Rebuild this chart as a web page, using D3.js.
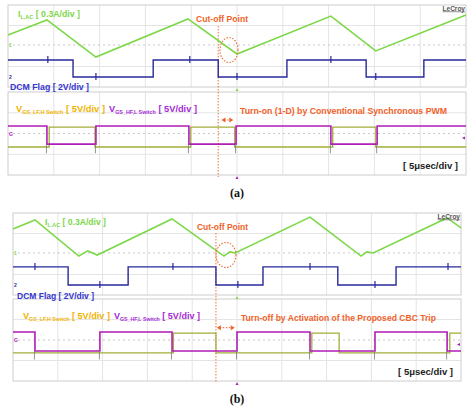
<!DOCTYPE html>
<html>
<head>
<meta charset="utf-8">
<script src="https://cdn.jsdelivr.net/npm/d3@7"></script>
<style>
  html, body { margin: 0; padding: 0; background: #fff; }
  svg { display: block; }
  text { font-family: "Liberation Sans", Arial, sans-serif; font-weight: bold; }
</style>
</head>
<body>
<div id="chart"></div>
<script>
// ---- dados (tempo em divisões de 5 µs, amplitude em divisões) ----

// (a) corrente do indutor I_L,AC
const iLacA_t = [0, 0.85, 1.92, 3.93, 5.0, 7.05, 8.03, 10];
const iLacA_v = [0.54, 1.27, -0.54, 1.32, -0.39, 1.46, -0.24, 1.51];
// (a) DCM flag
const dcmA_t = [0, 1.42, 3.17, 4.59, 6.09, 7.82, 9.08, 10];
const dcmA_v = [-0.68, -1.51, -0.68, -1.51, -0.68, -1.51, -0.68, -0.68];
const dcmA_spikes = [0.87, 1.92, 3.97, 5.0, 7.05, 8.03];
// (a) gate signals
const vgsHfA_t = [0, 0.85, 1.92, 3.95, 4.98, 7.05, 8.06, 10];
const vgsHfA_v = [0.36, -0.51, 0.36, -0.51, 0.36, -0.51, 0.36, 0.36];
const vgsLfA_t = [0, 0.9, 1.9, 3.99, 4.95, 7.09, 8.03, 10];
const vgsLfA_v = [-0.65, 0.31, -0.65, 0.31, -0.65, 0.31, -0.65, -0.65];

// (b) corrente do indutor I_L,AC
const iLacB_t = [0, 0.49, 1.47, 1.67, 1.88, 3.55, 4.71, 4.84, 4.96, 6.63, 7.77, 7.90, 8.04, 9.69, 10];
const iLacB_v = [1.22, 1.66, -0.10, 0.15, -0.05, 1.71, -0.10, 0.10, 0.05, 1.80, -0.10, 0.10, 0.05, 1.76, 1.27];
// (b) DCM flag
const dcmB_t = [0, 1.23, 2.57, 4.53, 5.58, 7.25, 8.55, 10];
const dcmB_v = [-0.63, -1.51, -0.63, -1.51, -0.63, -1.51, -0.63, -0.63];
const dcmB_spikes = [0.49, 1.94, 3.57, 5.02, 6.63, 8.08, 9.71];
// (b) gate signals
const vgsHfB_t = [0, 0.49, 1.94, 3.55, 5.0, 6.63, 8.08, 9.69, 10];
const vgsHfB_v = [0.39, -0.54, 0.39, -0.54, 0.39, -0.54, 0.39, -0.54, -0.54];
const vgsLfB_t = [0, 3.58, 4.53, 6.67, 7.28, 9.75, 10];
const vgsLfB_v = [-0.63, 0.34, -0.63, 0.34, -0.63, 0.34, 0.34];

// cut-off point e seta de atraso
const cutA = 4.59, arrowA = [4.66, 4.92];
const cutB = 4.53, arrowB = [4.55, 4.95];

// ---- cores ----
const C = {
  iLac: '#7dd848', dcm: '#28289a', dcmText: '#3535d2',
  hf: '#b01cb6', lf: '#a2ae38', lfText: '#f2b400', hfText: '#a52ad6',
  note: '#f0622a', cut: '#f0743c', grid: '#e4e4e4', border: '#cdcdcd'
};

const svg = d3.select('#chart').append('svg')
  .attr('width', 474).attr('height', 408);

/** Desenha um painel do osciloscópio */
function drawPanel(p) {
  const g = svg.append('g');
  const x = d3.scaleLinear().domain([0, 10]).range([p.x0, p.x1]);
  const yUp = d3.scaleLinear().domain([-2, 2]).range([p.upBot, p.upTop]);
  const yLo = d3.scaleLinear().domain([-2, 2]).range([p.loBot, p.loTop]);

  // grade dos dois quadros
  [[yUp, p.zeroUp], [yLo, 0]].forEach(([y, zero]) => {
    g.append('g').selectAll('line').data(d3.range(1, 10)).join('line')
      .attr('x1', d => x(d)).attr('x2', d => x(d))
      .attr('y1', y(-2)).attr('y2', y(2))
      .attr('stroke', C.grid).attr('stroke-width', 1);
    g.append('g').selectAll('line').data([-1, 1]).join('line')
      .attr('x1', x(0)).attr('x2', x(10))
      .attr('y1', d => y(d)).attr('y2', d => y(d))
      .attr('stroke', C.grid).attr('stroke-width', 1);
    g.append('line')
      .attr('x1', x(0)).attr('x2', x(10))
      .attr('y1', y(zero)).attr('y2', y(zero))
      .attr('stroke', '#c8c8c8').attr('stroke-dasharray', '2,3');
    g.append('rect')
      .attr('x', x(0)).attr('y', y(2))
      .attr('width', x(10) - x(0)).attr('height', y(-2) - y(2))
      .attr('fill', 'none').attr('stroke', C.border);
  });

  // linha vertical do cut-off
  g.append('line')
    .attr('x1', x(p.cut)).attr('x2', x(p.cut))
    .attr('y1', p.cutTop).attr('y2', yLo(-2) + 2)
    .attr('stroke', C.cut).attr('stroke-width', 1).attr('stroke-dasharray', '1.5,1.5');

  const line = (y, curve) => d3.line()
    .x(d => x(d[0])).y(d => y(d[1])).curve(curve);

  // DCM flag
  g.append('path')
    .datum(d3.zip(p.dcmT, p.dcmV))
    .attr('d', line(yUp, d3.curveStepAfter))
    .attr('fill', 'none').attr('stroke', C.dcm).attr('stroke-width', 1.4);
  // pequenos picos na DCM flag
  g.append('g').selectAll('line').data(p.dcmSpikes).join('line')
    .attr('x1', d => x(d)).attr('x2', d => x(d))
    .attr('y1', d => yUp(valueAt(p.dcmT, p.dcmV, d)) - 4)
    .attr('y2', d => yUp(valueAt(p.dcmT, p.dcmV, d)) + 3)
    .attr('stroke', C.dcm).attr('stroke-width', 1.2);

  // corrente
  g.append('path')
    .datum(d3.zip(p.iT, p.iV))
    .attr('d', line(yUp, d3.curveLinear))
    .attr('fill', 'none').attr('stroke', C.iLac).attr('stroke-width', 1.6);

  // gate LF (amarelo/oliva) e HF (magenta)
  g.append('path')
    .datum(d3.zip(p.lfT, p.lfV))
    .attr('d', line(yLo, d3.curveStepAfter))
    .attr('fill', 'none').attr('stroke', C.lf).attr('stroke-width', 1.3);
  g.append('path')
    .datum(d3.zip(p.hfT, p.hfV))
    .attr('d', line(yLo, d3.curveStepAfter))
    .attr('fill', 'none').attr('stroke', C.hf).attr('stroke-width', 1.6);
  // picos negativos nas comutações
  g.append('g').selectAll('line').data(p.hfT.slice(1, -1)).join('line')
    .attr('x1', d => x(d) - 0.5).attr('x2', d => x(d) - 0.5)
    .attr('y1', yLo(-0.5)).attr('y2', yLo(-0.95))
    .attr('stroke', '#777').attr('stroke-width', 0.8);

  // elipse do cut-off
  g.append('ellipse')
    .attr('cx', p.ell[0]).attr('cy', p.ell[1])
    .attr('rx', p.ell[2]).attr('ry', p.ell[3])
    .attr('fill', 'none').attr('stroke', C.cut).attr('stroke-width', 1.2)
    .attr('stroke-dasharray', '1.5,1.5');

  // seta de atraso
  const ay = yLo(p.arrowY);
  g.append('line')
    .attr('x1', x(p.arrow[0]) + 3).attr('x2', x(p.arrow[1]) - 3)
    .attr('y1', ay).attr('y2', ay)
    .attr('stroke', C.note).attr('stroke-width', 1).attr('stroke-dasharray', '1.5,1.5');
  g.append('path')
    .attr('d', `M${x(p.arrow[0])},${ay}l4,-2.5v5z M${x(p.arrow[1])},${ay}l-4,-2.5v5z`)
    .attr('fill', C.note);

  // marcadores de canal e trigger
  g.append('text').attr('x', x(0) + 1).attr('y', yUp(p.zeroUp) + 2)
    .attr('font-size', 5).attr('fill', C.iLac).text('1');
  g.append('text').attr('x', x(0) + 1).attr('y', yUp(-1.5) + 2)
    .attr('font-size', 5).attr('fill', C.dcm).text('2');
  g.append('text').attr('x', x(0) + 1).attr('y', yLo(0) + 2)
    .attr('font-size', 5).attr('fill', C.hf).text('G');
  g.append('path').attr('d', `M${x(10) - 1},${yLo(-0.15)}l-3,1.5l3,1.5z`).attr('fill', C.hf);
  g.append('path').attr('d', `M${x(5)},${yUp(-2) + 1}l-1.5,3h3z`).attr('fill', C.iLac);
  g.append('path').attr('d', `M${x(5)},${yLo(-2) + 1}l-1.5,3h3z`).attr('fill', C.hf);

  // textos
  const t1 = g.append('text').attr('x', p.iLabel[0]).attr('y', p.iLabel[1])
    .attr('font-size', 9.5).attr('fill', C.iLac)
    .attr('textLength', p.iLabel[2]).attr('lengthAdjust', 'spacingAndGlyphs');
  t1.append('tspan').text('I');
  t1.append('tspan').attr('font-size', 6).attr('dy', 2).text('L,AC');
  t1.append('tspan').attr('dy', -2).text(' [ 0.3A/div ]');

  g.append('text').attr('x', p.dcmLabel[0]).attr('y', p.dcmLabel[1])
    .attr('font-size', 9.5).attr('fill', C.dcmText)
    .attr('textLength', p.dcmLabel[2]).attr('lengthAdjust', 'spacingAndGlyphs')
    .text('DCM Flag [ 2V/div ]');

  g.append('text').attr('x', p.cutLabel[0]).attr('y', p.cutLabel[1])
    .attr('font-size', 9.5).attr('fill', C.note)
    .attr('textLength', p.cutLabel[2]).attr('lengthAdjust', 'spacingAndGlyphs')
    .text('Cut-off Point');

  const t2 = g.append('text').attr('x', p.lfLabel[0]).attr('y', p.lfLabel[1])
    .attr('font-size', 9.5).attr('fill', C.lfText)
    .attr('textLength', p.lfLabel[2]).attr('lengthAdjust', 'spacingAndGlyphs');
  t2.append('tspan').text('V');
  t2.append('tspan').attr('font-size', 5.5).attr('dy', 2).text('GS_LF,H Switch');
  t2.append('tspan').attr('dy', -2).text(' [ 5V/div ]');

  const t3 = g.append('text').attr('x', p.hfLabel[0]).attr('y', p.hfLabel[1])
    .attr('font-size', 9.5).attr('fill', C.hfText)
    .attr('textLength', p.hfLabel[2]).attr('lengthAdjust', 'spacingAndGlyphs');
  t3.append('tspan').text('V');
  t3.append('tspan').attr('font-size', 5.5).attr('dy', 2).text('GS_HF,L Switch');
  t3.append('tspan').attr('dy', -2).text(' [ 5V/div ]');

  g.append('text').attr('x', p.note[0]).attr('y', p.note[1])
    .attr('font-size', 9).attr('fill', C.note)
    .attr('textLength', p.note[2]).attr('lengthAdjust', 'spacingAndGlyphs')
    .text(p.noteText);

  g.append('text').attr('x', p.x1 - 8).attr('y', p.loBot - 6)
    .attr('text-anchor', 'end').attr('font-size', 9.5).attr('fill', '#222')
    .text('[ 5μsec/div ]');

  g.append('text').attr('x', p.x1 - 1).attr('y', p.upTop + 5.5)
    .attr('text-anchor', 'end').attr('font-size', 6.5).attr('font-weight', 'normal')
    .attr('fill', '#555').attr('text-decoration', 'underline')
    .text('LeCroy');

  g.append('text').attr('x', 237).attr('y', p.capY)
    .attr('text-anchor', 'middle').attr('font-size', 12)
    .style('font-family', '"Liberation Serif", "DejaVu Serif", serif')
    .attr('fill', '#111').text(p.caption);
}

// valor de um sinal em degraus num instante t
function valueAt(ts, vs, t) {
  const i = d3.bisectRight(ts, t) - 1;
  return vs[Math.max(0, Math.min(i, vs.length - 1))];
}

drawPanel({
  x0: 8, x1: 466, upTop: 5, upBot: 87, loTop: 92, loBot: 175, zeroUp: 0.05,
  iT: iLacA_t, iV: iLacA_v, dcmT: dcmA_t, dcmV: dcmA_v, dcmSpikes: dcmA_spikes,
  hfT: vgsHfA_t, hfV: vgsHfA_v, lfT: vgsLfA_t, lfV: vgsLfA_v,
  cut: cutA, cutTop: 26, arrow: arrowA, arrowY: 0.65,
  ell: [229, 50, 9, 12.5],
  iLabel: [18, 17, 62], dcmLabel: [10, 90, 79], cutLabel: [196, 22, 52],
  lfLabel: [16, 112, 89], hfLabel: [109, 112, 88],
  note: [240, 114, 207], noteText: 'Turn-on (1-D) by Conventional Synchronous PWM',
  caption: '(a)', capY: 197
});

drawPanel({
  x0: 13, x1: 461, upTop: 213, upBot: 295, loTop: 299, loBot: 381, zeroUp: 0.05,
  iT: iLacB_t, iV: iLacB_v, dcmT: dcmB_t, dcmV: dcmB_v, dcmSpikes: dcmB_spikes,
  hfT: vgsHfB_t, hfV: vgsHfB_v, lfT: vgsLfB_t, lfV: vgsLfB_v,
  cut: cutB, cutTop: 233, arrow: arrowB, arrowY: 0.6,
  ell: [226, 255, 10, 12.5],
  iLabel: [45, 225, 61], dcmLabel: [17, 299, 77], cutLabel: [197, 230, 51],
  lfLabel: [23, 319, 87], hfLabel: [114, 319, 86],
  note: [241, 321, 195], noteText: 'Turn-off by Activation of the Proposed CBC Trip',
  caption: '(b)', capY: 403
});
</script>
</body>
</html>
